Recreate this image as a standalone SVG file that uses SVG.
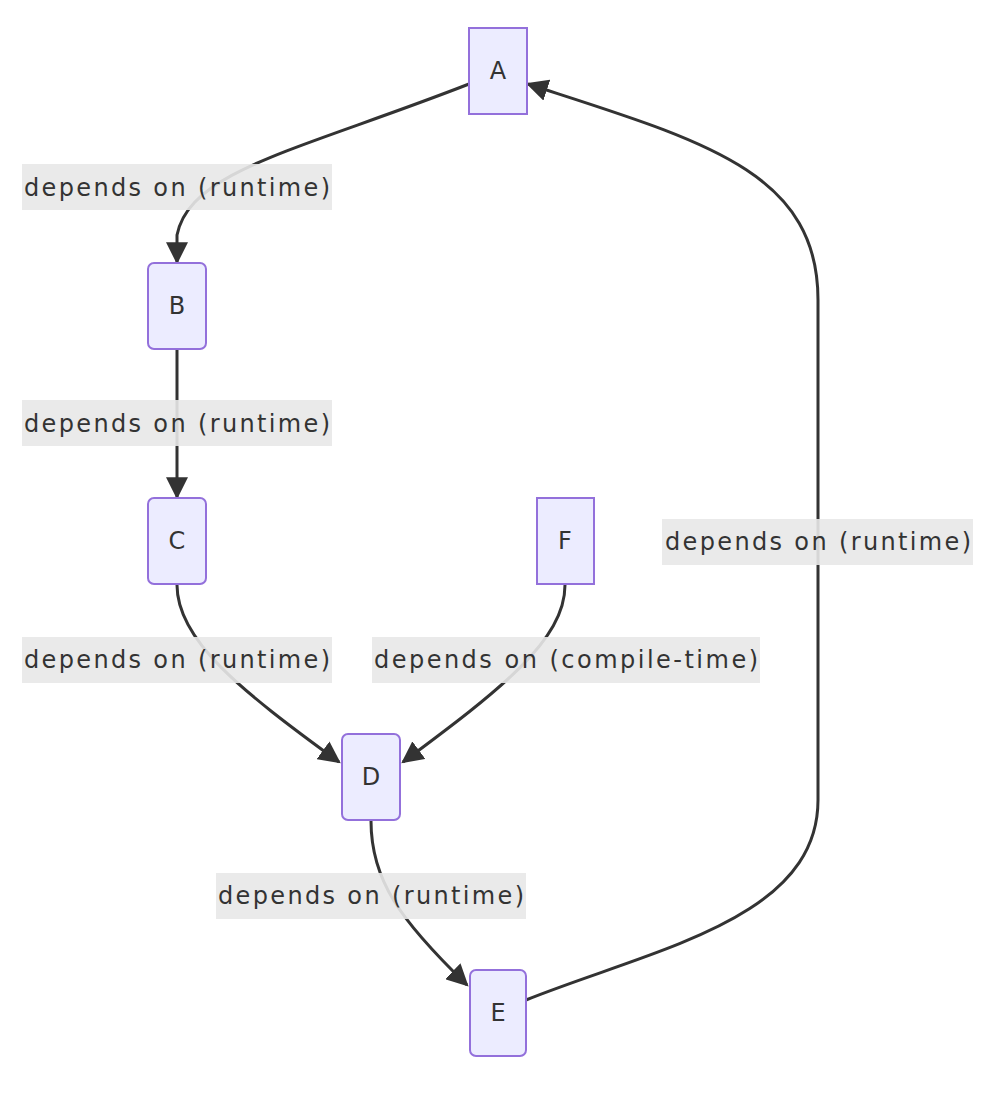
<svg xmlns="http://www.w3.org/2000/svg" width="1006" height="1108" viewBox="0 0 1006 1108">
<style>
.n{fill:#ECECFF;stroke:#9370DB;stroke-width:2}
.t{font-family:"DejaVu Sans",sans-serif;font-size:24px;fill:#333;text-anchor:middle;dominant-baseline:central}
.e{fill:none;stroke:#333;stroke-width:3}
.lb{fill:#e8e8e8;opacity:0.9}
</style>
<defs><marker id="ah" viewBox="0 0 10 10" refX="9" refY="5" markerWidth="8" markerHeight="8" markerUnits="userSpaceOnUse" orient="auto"><path d="M0,0L10,5L0,10z" fill="#333"/></marker>
<marker id="a" viewBox="0 0 10 10" refX="9" refY="5" markerWidth="22" markerHeight="22" markerUnits="userSpaceOnUse" orient="auto"><path d="M0,0L10,5L0,10z" fill="#333"/></marker></defs>
<rect width="1006" height="1108" fill="#fff"/>
<g id="edges">
<path class="e" marker-end="url(#a)" d="M469,84 C300,150 190,170 177,235 L177,262"/>
<path class="e" marker-end="url(#a)" d="M177,349 L177,497"/>
<path class="e" marker-end="url(#a)" d="M177,585 C177,640 240,690 339,762"/>
<path class="e" marker-end="url(#a)" d="M565,585 C565,640 500,690 403,762"/>
<path class="e" marker-end="url(#a)" d="M371,821 C371,880 400,920 467,985"/>
<path class="e" marker-end="url(#a)" d="M526,1000 C650,950 818,920 818,800 L818,300 C818,170 700,140 528,84"/>
</g>
<g id="labels">
<rect class="lb" x="22" y="164" width="310" height="46"/><text class="t" x="177" y="188" textLength="306">depends on (runtime)</text>
<rect class="lb" x="22" y="400" width="310" height="46"/><text class="t" x="177" y="424" textLength="306">depends on (runtime)</text>
<rect class="lb" x="22" y="637" width="310" height="46"/><text class="t" x="177" y="660" textLength="306">depends on (runtime)</text>
<rect class="lb" x="372" y="637" width="388" height="46"/><text class="t" x="566" y="660" textLength="384">depends on (compile-time)</text>
<rect class="lb" x="216" y="873" width="310" height="46"/><text class="t" x="371" y="896" textLength="306">depends on (runtime)</text>
<rect class="lb" x="662" y="519" width="311" height="46"/><text class="t" x="818" y="542" textLength="306">depends on (runtime)</text>
</g>
<g id="A"><rect class="n" x="469" y="28" width="58" height="86"/><text class="t" x="498" y="71">A</text></g>
<g id="B"><rect class="n" x="148" y="263" width="58" height="86" rx="6"/><text class="t" x="177" y="306">B</text></g>
<g id="C"><rect class="n" x="148" y="498" width="58" height="86" rx="6"/><text class="t" x="177" y="541">C</text></g>
<g id="F"><rect class="n" x="537" y="498" width="57" height="86"/><text class="t" x="565" y="541">F</text></g>
<g id="D"><rect class="n" x="342" y="734" width="58" height="86" rx="6"/><text class="t" x="371" y="777">D</text></g>
<g id="E"><rect class="n" x="470" y="970" width="56" height="86" rx="6"/><text class="t" x="498" y="1013">E</text></g>
</svg>
